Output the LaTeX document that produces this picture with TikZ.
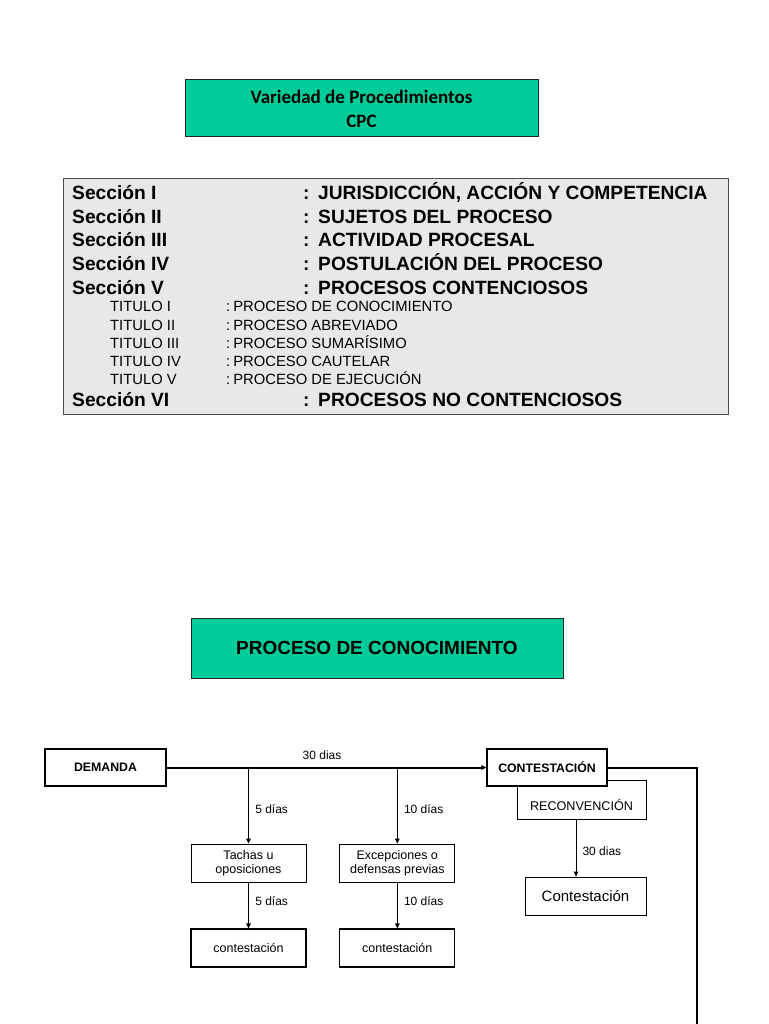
\documentclass[tikz,border=0pt]{standalone}
\usepackage{fontspec}
\setmainfont{Liberation Sans}
\newfontfamily\calfont{Carlito}
\usetikzlibrary{arrows.meta,positioning}
\definecolor{cpcgreen}{RGB}{0,204,153}
\definecolor{panelgray}{RGB}{232,232,232}
\tikzset{
  hbox/.style={draw=black!85, fill=cpcgreen, line width=1pt, inner sep=0pt, align=center},
  sbox/.style={draw, fill=white, line width=0.8pt, inner sep=0pt, align=center,
    minimum width=115pt, minimum height=38pt, font=\fontsize{12.5}{14}\selectfont},
  bbox/.style={draw, fill=white, line width=1.1pt, inner sep=0pt, align=center,
    font=\fontsize{12.3}{14}\selectfont\bfseries},
  arrow/.style={-{Triangle[length=5pt,width=4.5pt]}, line width=1.5pt},
  sec/.style={anchor=base west, inner sep=0pt, font=\fontsize{19.2}{22}\selectfont\bfseries},
  tit/.style={anchor=base west, inner sep=0pt, font=\fontsize{14.8}{16}\selectfont},
  days/.style={font=\fontsize{12}{14}\selectfont, inner sep=2pt},
}
\begin{document}
\begin{tikzpicture}[x=1pt, y=-1pt]
\useasboundingbox (0,0) rectangle (768,1024);

% --- header and list of sections ---
\node[hbox, minimum width=353pt, minimum height=57pt,
  font=\calfont\bfseries\fontsize{19}{24}\selectfont] (vtitle) at (361.5,108.5)
  {Variedad de Procedimientos\\CPC};

\node[draw=black!70, fill=panelgray, line width=1pt, minimum width=665pt,
  minimum height=235pt, inner sep=0pt] (panel) at (395.5,296.5) {};

\foreach \y/\sname/\stext in {200/I/{JURISDICCIÓN, ACCIÓN Y COMPETENCIA},
    223/II/{SUJETOS DEL PROCESO}, 247/III/{ACTIVIDAD PROCESAL},
    270/IV/{POSTULACIÓN DEL PROCESO}, 294/V/{PROCESOS CONTENCIOSOS},
    406/VI/{PROCESOS NO CONTENCIOSOS}}{
  \node[sec] (sec\sname) at (72,\y) {Sección \sname};
  \node[sec] (col\sname) at (303,\y) {:};
  \node[sec] (sect\sname) at (318,\y) {\stext};
}

\foreach \y/\tname/\ttext in {311/I/DE CONOCIMIENTO, 330/II/ABREVIADO,
    348/III/SUMARÍSIMO, 366/IV/CAUTELAR, 384/V/DE EJECUCIÓN}{
  \node[tit] (tit\tname) at (110,\y) {TITULO \tname};
  \node[tit] (titt\tname) at (226,\y) {:\hspace{3pt}PROCESO \ttext};
}

% --- proceso de conocimiento ---
\node[hbox, minimum width=372pt, minimum height=60pt,
  font=\fontsize{19}{22}\selectfont\bfseries] (pctitle) at (377,648) {PROCESO DE CONOCIMIENTO};

\node[bbox, minimum width=121pt, minimum height=37pt] (dem) at (105.5,767.5) {DEMANDA};
\node[sbox, minimum width=129pt, minimum height=39pt, text height=25pt, text depth=3pt,
  font=\fontsize{12.6}{14}\selectfont] (recon) at (581.5,799.5) {RECONVENCIÓN};
\node[bbox, minimum width=120pt, minimum height=37pt] (cont) at (547,767.5) {CONTESTACIÓN};

\node[sbox] (tach) at (248.5,863) {Tachas u\\oposiciones};
\node[sbox] (exc) [right=33pt of tach] {Excepciones o\\defensas previas};
\node[sbox, line width=1.1pt] (cta) [below=46pt of tach] {contestación};
\node[sbox, line width=1.1pt] (ctb) [below=46pt of exc] {contestación};
\node[sbox, minimum width=121pt, font=\fontsize{15}{17}\selectfont] (contr) at (585.5,896) {Contestación};

\draw[arrow, line width=2pt] (dem) -- node[days, above=5pt, pos=0.486] {30 dias} (cont);

\coordinate (jt) at (tach.north |- dem.east);
\coordinate (je) at (exc.north |- dem.east);
\draw[arrow] (jt) -- node[days, right=4pt, pos=0.55] {5 días} (tach);
\draw[arrow] (je) -- node[days, right=4pt, pos=0.55] {10 días} (exc);
\draw[arrow] (tach) -- node[days, right=4pt, pos=0.4] {5 días} (cta);
\draw[arrow] (exc) -- node[days, right=4pt, pos=0.4] {10 días} (ctb);

\coordinate (jr) at ([xshift=-5.5pt]recon.south);
\draw[arrow, line width=1pt] (jr) -- node[days, right=4pt, pos=0.55] {30 dias} (jr |- contr.north);

\coordinate (down) at (697,1030);
\draw[line width=2pt] (cont.east) -| (down);

\end{tikzpicture}
\end{document}
